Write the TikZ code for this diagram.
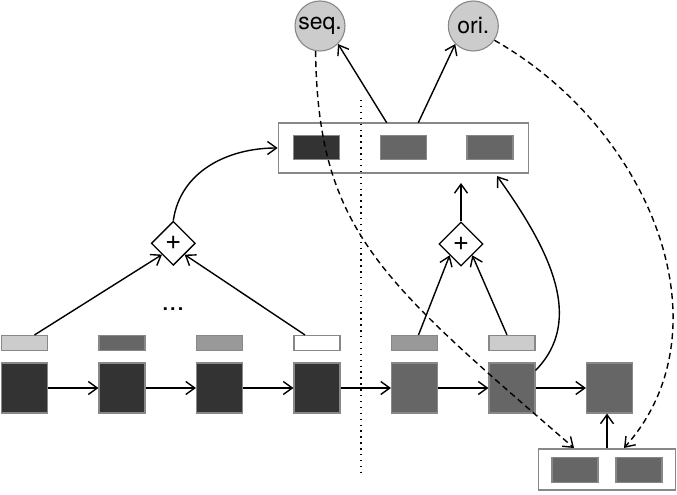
\documentclass[tikz,border=0pt]{standalone}
\usepackage{fontspec}
\setmainfont{TeX Gyre Heros}
\usetikzlibrary{arrows.meta,shapes.geometric}
\definecolor{cdark}{HTML}{333333}
\definecolor{cmid}{HTML}{666666}
\definecolor{cmed}{HTML}{999999}
\definecolor{clight}{HTML}{CCCCCC}
\definecolor{cline}{HTML}{888888}
\tikzset{
  blk/.style={draw=cline, line width=1.1pt, minimum width=46pt, minimum height=50pt, inner sep=0pt},
  bar/.style={draw=cline, line width=1.1pt, minimum width=46pt, minimum height=15pt, inner sep=0pt},
  cell/.style={draw=cline, line width=1.1pt, minimum width=46pt, minimum height=24pt, inner sep=0pt, fill=cmid},
  frame/.style={draw=cline, line width=1.3pt, inner sep=0pt},
  circ/.style={circle, draw=cline, line width=1.1pt, fill=clight, minimum size=50pt, inner sep=0pt, font=\fontsize{23}{25}\selectfont},
  plus/.style={diamond, draw, line width=1.3pt, aspect=1, minimum width=44pt, minimum height=44pt, inner sep=0pt, font=\fontsize{28}{28}\selectfont},
  arr/.style={line width=1.4pt, -{Straight Barb[length=9pt,width=13pt,line width=1.4pt]}},
  darr/.style={arr, dash pattern=on 6pt off 4pt},
}
\begin{document}
\begin{tikzpicture}[x=1pt,y=-1pt]
\useasboundingbox (0,0) rectangle (677,495);
% bottom chain
\foreach \i/\c in {1/cdark,2/cdark,3/cdark,4/cdark,5/cmid,6/cmid,7/cmid}{
  \node[blk, fill=\c] (s\i) at ({24.5+97.5*(\i-1)},388) {};
}
\foreach \i/\c in {1/clight,2/cmid,3/cmed,4/white,5/cmed,6/clight}{
  \node[bar, fill=\c] (b\i) at ({24.5+97.5*(\i-1)},343) {};
}
\foreach \i/\j in {1/2,2/3,3/4,4/5,5/6,6/7}{
  \draw[arr] (s\i.east) -- (s\j.west);
}
\node[font=\fontsize{27}{27}\selectfont] (dots) at (173,309) {...};
% top box
\node[frame, minimum width=250pt, minimum height=50pt] (tbox) at (403.3,148) {};
\node[cell, fill=cdark] (t1) at (316.3,147.3) {};
\node[cell] (t2) at (403.3,147.3) {};
\node[cell] (t3) at (490,147.3) {};
% circles
\node[circ] (seq) at (320,26) {seq.};
\node[circ] (ori) at (473.3,26) {ori.};
\draw[arr] (386.7,122.7) coordinate (ta) -- (seq.south east);
\draw[arr] (418.3,122.7) coordinate (tb) -- (ori.south west);
% diamonds
\node[plus] (d1) at (173.3,243.3) {+};
\node[plus] (d2) at (461,244) {+};
\draw[arr] ([xshift=10pt]b1.north) -- (d1.south west);
\draw[arr] ([xshift=-12pt]b4.north) -- (d1.south east);
\draw[arr] ([xshift=4pt]b5.north) -- (d2.south west);
\draw[arr] ([xshift=-5pt]b6.north) -- (d2.south east);
\coordinate (d2top) at (461,183);
\draw[arr] (d2.north) -- (d2top);
\draw[arr] (d1.north) to[out=82,in=180] (tbox.west);
\coordinate (rc) at (497,176);
\draw[arr] ([yshift=-8pt]s6.north east) .. controls (585,320) and (550,250) .. (rc);
% bottom box
\node[frame, minimum width=137pt, minimum height=41pt] (bbox) at (607,469.5) {};
\node[cell, minimum height=25pt] (u1) at (575,469.8) {};
\node[cell, minimum height=25pt] (u2) at (639,469.8) {};
\draw[arr] (bbox.north) -- (bbox.north |- s7.south);
% dashed
\coordinate (e1) at (574,448);
\coordinate (e2) at (624,448);
\draw[darr] (seq.-100) .. controls (318,230) and (380,280) .. (e1);
\draw[darr] (ori.-34) .. controls (652,130) and (730,330) .. (e2);
% dotted separator
\coordinate (v1) at (361,100);
\coordinate (v2) at (361,477);
\draw[line width=1.4pt, dash pattern=on 1.4pt off 4.5pt] (v1) -- (v2);
\end{tikzpicture}
\end{document}
